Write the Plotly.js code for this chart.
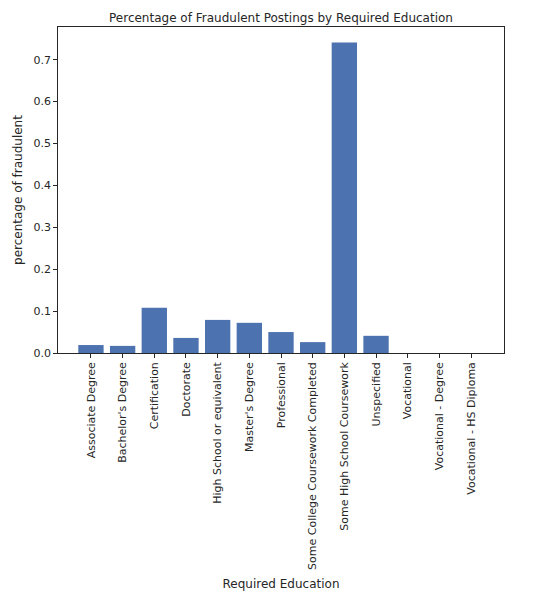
<!DOCTYPE html>
<html>
<head>
<meta charset="utf-8">
<script src="https://cdn.plot.ly/plotly-3.0.1.min.js"></script>
<style>html,body{margin:0;padding:0;background:#fff;}#chart{width:535px;height:611px;}</style>
</head>
<body>
<div id="chart"></div>
<script>
const categories = ["Associate Degree", "Bachelor's Degree", "Certification", "Doctorate",
  "High School or equivalent", "Master's Degree", "Professional",
  "Some College Coursework Completed", "Some High School Coursework", "Unspecified",
  "Vocational", "Vocational - Degree", "Vocational - HS Diploma"];
const fraudPct = [0.019, 0.017, 0.108, 0.036, 0.079, 0.072, 0.050, 0.026, 0.741, 0.041, 0, 0, 0];
const yTicks = [0, 0.1, 0.2, 0.3, 0.4, 0.5, 0.6, 0.7];

const txt = '#262626';
const tickFont = {family: 'DejaVu Sans', size: 11, color: txt};
const labelFont = {family: 'DejaVu Sans', size: 12, color: txt};
const maxV = Math.max(...fraudPct);

Plotly.newPlot('chart', [{
  type: 'bar',
  x: categories.map((c, i) => i),
  y: fraudPct,
  width: 0.8,
  marker: {color: '#4c72b0', line: {width: 0}},
  hoverinfo: 'x+y'
}], {
  width: 535, height: 611,
  margin: {l: 58, r: 31, t: 27, b: 258},
  paper_bgcolor: '#fff', plot_bgcolor: '#fff',
  font: tickFont,
  showlegend: false,
  title: {text: 'Percentage of Fraudulent Postings by Required Education',
    font: labelFont, x: 0.5, xref: 'paper', y: 1, yref: 'paper', yanchor: 'bottom', pad: {b: 5}},
  xaxis: {
    range: [-1.04, categories.length - 1 + 1.04],
    tickmode: 'array', tickvals: categories.map((c, i) => i), ticktext: categories,
    tickangle: -90, ticks: 'outside', ticklen: 3.5, tickwidth: 1, tickcolor: txt,
    showline: true, linecolor: txt, linewidth: 1.25, mirror: true,
    showgrid: false, zeroline: false,
    tickfont: tickFont,
    title: {text: 'Required Education', font: labelFont, standoff: 10}
  },
  yaxis: {
    range: [0, maxV * 1.05],
    tickmode: 'array', tickvals: yTicks, ticktext: yTicks.map(v => v.toFixed(1)),
    ticks: 'outside', ticklen: 3.5, tickwidth: 1, tickcolor: txt,
    showline: true, linecolor: txt, linewidth: 1.25, mirror: true,
    showgrid: false, zeroline: false,
    tickfont: tickFont,
    title: {text: 'percentage of fraudulent', font: labelFont, standoff: 8}
  },
  bargap: 0.2
}, {staticPlot: true, displayModeBar: false});
</script>
</body>
</html>
